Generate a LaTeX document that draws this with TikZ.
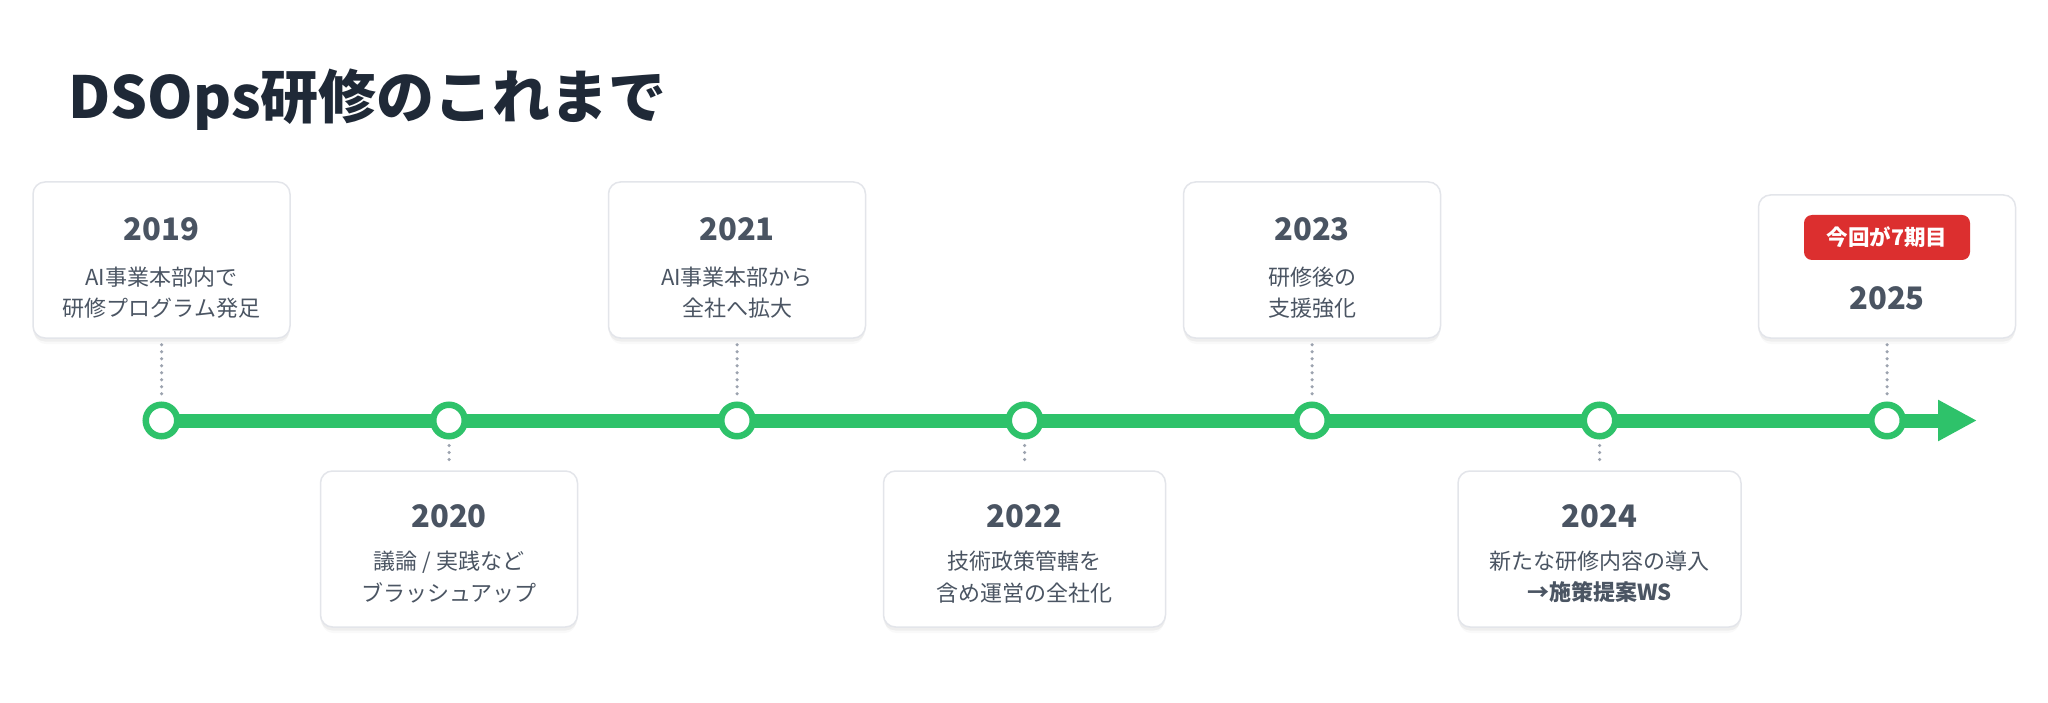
\documentclass[tikz,border=0pt]{standalone}
\usepackage{fontspec}
\setmainfont{Noto Sans CJK JP}
\usetikzlibrary{arrows.meta,positioning,shadows}

\definecolor{lineGreen}{HTML}{2EC26A}
\definecolor{titleInk}{HTML}{1F2937}
\definecolor{yearInk}{HTML}{4A5462}
\definecolor{bodyInk}{HTML}{4B5563}
\definecolor{cardEdge}{HTML}{E3E5EA}
\definecolor{dotGray}{HTML}{9CA3AF}
\definecolor{badgeRed}{HTML}{DC2F2F}

\begin{document}
\begin{tikzpicture}[x=1pt,y=-1pt,
  card/.style={shape=rectangle,rounded corners=12pt,draw=cardEdge,line width=1.5pt,fill=white,
    minimum width=257pt,minimum height=156pt,
    drop shadow={shadow xshift=0pt,shadow yshift=-7pt,shadow scale=0.99,fill=black,opacity=0.025},
    drop shadow={shadow xshift=0pt,shadow yshift=-3.5pt,fill=black,opacity=0.045}},
  ring/.style={shape=circle,draw=lineGreen,fill=white,line width=6.5pt,minimum size=31.5pt,inner sep=0pt},
  year/.style={font=\fontsize{31}{31}\selectfont\bfseries,text=yearInk,inner sep=0pt},
  body/.style={font=\fontsize{22}{31.5}\selectfont,text=bodyInk,inner sep=0pt,align=center},
  badge/.style={shape=rectangle,rounded corners=8pt,fill=badgeRed,text=white,inner sep=0pt,
    minimum width=166pt,minimum height=45pt,font=\fontsize{21.5}{21.5}\selectfont\bfseries},
  dots/.style={draw=dotGray,line width=3.5pt,line cap=round,dash pattern=on 0pt off 7pt,
    shorten <=6pt,shorten >=6pt}]
\useasboundingbox[fill=white] (0,0) rectangle (2048,703);

% title
\node[anchor=base west,inner sep=0pt,font=\fontsize{58}{58}\selectfont\bfseries,text=titleInk] (title) at (68,119) {DSOps研修のこれまで};

% timeline
\coordinate (start) at (161.5,420.5);
\coordinate (tip) at (1977,420.5);
\draw[line width=14pt,lineGreen,-{Triangle[length=39pt,width=38.6pt]}] (start) -- (tip);

\node[ring] (c2019) at (161.5,420.5) {};
\node[ring] (c2020) at (449,420.5) {};
\node[ring] (c2021) at (737,420.5) {};
\node[ring] (c2022) at (1024.5,420.5) {};
\node[ring] (c2023) at (1312,420.5) {};
\node[ring] (c2024) at (1599.5,420.5) {};
\node[ring] (c2025) at (1887,420.5) {};

% cards above
\node[card] (b2019) at (161.5,260) {};
\node[year] (y2019) at (161.5,229) {2019};
\node[body] (t2019) at (161.5,292.5) {AI事業本部内で\\研修プログラム発足};

\node[card] (b2021) at (737,260) {};
\node[year] (y2021) at (737,229) {2021};
\node[body] (t2021) at (737,292.5) {AI事業本部から\\全社へ拡大};

\node[card] (b2023) at (1312,260) {};
\node[year] (y2023) at (1312,229) {2023};
\node[body] (t2023) at (1312,292.5) {研修後の\\支援強化};

\node[card,minimum height=143pt] (b2025) at (1887,266.5) {};
\node[badge] (tag2025) at (1887,237.5) {今回が7期目};
\node[year] (y2025) at (1887,298) {2025};

% cards below
\node[card] (b2020) at (449,549) {};
\node[year] (y2020) at (449,516) {2020};
\node[body] (t2020) at (449,577) {議論 / 実践など\\ブラッシュアップ};

\node[card,minimum width=282pt] (b2022) at (1024.5,549) {};
\node[year] (y2022) at (1024.5,516) {2022};
\node[body] (t2022) at (1024.5,577) {技術政策管轄を\\含め運営の全社化};

\node[card,minimum width=283pt] (b2024) at (1599.5,549) {};
\node[year] (y2024) at (1599.5,516) {2024};
\node[body] (t2024) at (1599.5,577) {新たな研修内容の導入\\\textbf{→施策提案WS}};

% dotted ties
\draw[dots] (b2019) -- (c2019);
\draw[dots] (b2021) -- (c2021);
\draw[dots] (b2023) -- (c2023);
\draw[dots] (b2025) -- (c2025);
\draw[dots] (c2020) -- (b2020);
\draw[dots] (c2022) -- (b2022);
\draw[dots] (c2024) -- (b2024);

\end{tikzpicture}
\end{document}
